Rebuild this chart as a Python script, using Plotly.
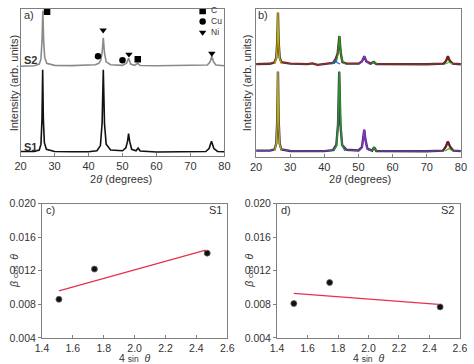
import plotly.graph_objects as go

# ---------------- Panel a: XRD patterns ----------------
a_s1_x = [20, 24, 25.5, 26.0, 26.3, 26.5, 26.7, 27.0, 27.6, 30, 35, 40, 42.5, 43.5, 44.0, 44.35, 44.7, 45.2, 46.5,
          50, 51.0, 51.5, 51.8, 52.1, 52.7, 54.0, 54.6, 55.2, 60, 70, 74.5, 75.5, 76.2, 76.9, 78, 80]
a_s1_y = [3.0, 3.0, 4.0, 8, 25, 58.6, 25, 9, 4.5, 3.0, 2.8, 2.8, 3.5, 7, 22, 58.6, 22, 8, 4,
          3.5, 5.5, 10, 15.1, 10, 4.5, 3.5, 5.3, 3.3, 2.6, 2.6, 3.0, 5, 9.9, 5, 3.0, 2.8]
a_s2_x = [20, 24, 25.5, 26.0, 26.3, 26.55, 26.8, 27.1, 27.7, 30, 35, 40, 42.0, 43.0, 43.6, 44.0, 44.35, 44.7, 45.2,
          46.5, 50, 51.2, 51.8, 52.4, 53.5, 54.5, 55.2, 60, 70, 75.0, 75.8, 76.3, 76.8, 77.5, 80]
a_s2_y = [61.0, 61.3, 62.5, 66, 78, 98.7, 78, 67, 63, 61.6, 61.4, 61.5, 62.0, 63.0, 65, 70, 80.3, 70, 64,
          62, 61.6, 63, 66.4, 62.5, 61.6, 63.0, 61.5, 61.3, 61.3, 61.8, 64, 67.8, 64, 61.8, 61.3]

phase_c_x = [27.8, 54.5]
phase_c_y = [98.0, 65.8]
phase_cu_x = [42.8, 50.0]
phase_cu_y = [67.8, 65.1]
phase_ni_x = [44.3, 51.9, 76.3]
phase_ni_y = [85.5, 69.1, 69.7]
legend_names = ["C", "Cu", "Ni"]
legend_x = 73.6
legend_y = [98.5, 91.5, 84.0]

# ---------------- Panel b: fitted XRD patterns ----------------
b_low_x = [20, 24, 25.4, 25.9, 26.2, 26.4, 26.6, 26.9, 27.4, 30, 35, 40, 42.5, 43.5, 44.0, 44.35, 44.7, 45.2, 46.5,
           50, 51.0, 51.4, 51.7, 52.0, 52.6, 54.0, 54.6, 55.2, 60, 70, 74.8, 75.6, 76.2, 76.8, 77.8, 80]
b_low_y = [4.2, 4.2, 5, 9, 25, 57.5, 25, 9, 5, 4.0, 3.9, 3.9, 4.5, 8, 22, 57.5, 22, 8, 4.8,
           4.3, 6.5, 12, 18.3, 12, 5.5, 4.2, 6.5, 4.0, 3.9, 3.8, 4.2, 7, 10.5, 7, 4.2, 3.9]
b_up_x = [20, 24, 25.4, 25.9, 26.2, 26.4, 26.6, 26.9, 27.4, 30, 35, 36.5, 38, 40, 42.5, 43.3, 43.9, 44.4, 44.8, 45.3,
          46.5, 50, 51.0, 51.7, 52.3, 53.5, 54.5, 55.2, 60, 70, 75.0, 75.7, 76.2, 76.7, 77.6, 80]
b_up_y = [62.7, 62.9, 63.8, 67, 78, 97.4, 78, 67, 64, 63.0, 62.7, 63.2, 62.2, 62.8, 63.5, 66, 70, 81.7, 70, 64,
          63, 63, 64.5, 68.0, 64.5, 63, 64.1, 62.8, 62.6, 62.6, 63, 65, 68.0, 65, 63, 62.6]

# component peaks
comp_c1_x = [25.4, 25.9, 26.2, 26.4, 26.6, 26.9, 27.4]
comp_c1_low = [4.0, 8.5, 24, 57.5, 24, 8.5, 4.0]
comp_c1_up = [62.8, 66.5, 77, 97.4, 77, 66.5, 62.8]
comp_ni1_x = [42.8, 43.6, 44.0, 44.4, 44.8, 45.2, 46.0]
comp_ni1_low = [4.0, 7.5, 21, 57.5, 21, 7.5, 4.0]
comp_ni1_up = [62.8, 65, 69.5, 81.7, 69.5, 65, 62.8]
comp_cu1_x = [42.0, 42.8, 43.3, 43.8, 44.6]
comp_cu1_up = [62.8, 63.6, 64.8, 63.6, 62.8]
comp_ni2_x = [50.2, 51.0, 51.4, 51.7, 52.0, 52.4, 53.2]
comp_ni2_low = [4.0, 6.3, 11.5, 18.3, 11.5, 6.0, 4.0]
comp_ni2_up = [62.8, 64.3, 66.5, 68.0, 66.5, 64.3, 62.8]
comp_c2_x = [53.8, 54.3, 54.6, 54.9, 55.4]
comp_c2_low = [4.0, 5.0, 6.5, 5.0, 4.0]
comp_c2_up = [62.8, 63.4, 64.1, 63.4, 62.8]
comp_ni3_x = [74.6, 75.5, 75.9, 76.2, 76.5, 76.9, 77.8]
comp_ni3_low = [4.0, 6.2, 8.5, 10.5, 8.5, 6.2, 4.0]
comp_ni3_up = [62.8, 64.5, 66.5, 68.0, 66.5, 64.5, 62.8]
comp_ni3b_x = [75.4, 76.0, 76.5, 77.0, 77.6]
comp_ni3b_low = [4.0, 4.8, 5.6, 4.8, 4.0]
comp_ni3b_up = [62.8, 63.4, 63.9, 63.4, 62.8]

# ---------------- Panels c, d: Williamson-Hall ----------------
wh_c_x = [1.51, 1.74, 2.47]
wh_c_y = [0.0086, 0.0122, 0.0141]
fit_c_x = [1.51, 2.46]
fit_c_y = [0.0096, 0.01445]
wh_d_x = [1.51, 1.745, 2.47]
wh_d_y = [0.0081, 0.0106, 0.0077]
fit_d_x = [1.51, 2.46]
fit_d_y = [0.0093, 0.0080]

FONT = "Liberation Sans, Arial, sans-serif"
W, H = 474, 364
fig = go.Figure()

# panel a traces
fig.add_trace(go.Scatter(x=a_s1_x, y=a_s1_y, mode="lines", line=dict(color="#111111", width=1.6),
                         xaxis="x", yaxis="y", showlegend=False))
fig.add_trace(go.Scatter(x=a_s2_x, y=a_s2_y, mode="lines", line=dict(color="#8a8a8a", width=1.6),
                         xaxis="x", yaxis="y", showlegend=False))
for xs, ys, sym in [(phase_c_x, phase_c_y, "square"), (phase_cu_x, phase_cu_y, "circle"),
                    (phase_ni_x, phase_ni_y, "triangle-down")]:
    fig.add_trace(go.Scatter(x=xs, y=ys, mode="markers", marker=dict(symbol=sym, size=6.5, color="black"),
                             xaxis="x", yaxis="y", showlegend=False))
fig.add_trace(go.Scatter(x=[legend_x] * 3, y=legend_y, mode="markers",
                         marker=dict(symbol=["square", "circle", "triangle-down"], size=6.5, color="black"),
                         xaxis="x", yaxis="y", showlegend=False))

# panel b traces
for xs, ys, fitc in [(b_low_x, b_low_y, "#7a3cc8"), (b_up_x, b_up_y, "#b22222")]:
    fig.add_trace(go.Scatter(x=xs, y=ys, mode="lines", line=dict(color="#3a3a3a", width=2.4),
                             xaxis="x2", yaxis="y2", showlegend=False))
    fig.add_trace(go.Scatter(x=xs, y=ys, mode="lines", line=dict(color=fitc, width=1),
                             xaxis="x2", yaxis="y2", showlegend=False))
comps = [
    (comp_c1_x, comp_c1_low, "#b8b000"), (comp_c1_x, comp_c1_up, "#b8b000"),
    (comp_ni1_x, comp_ni1_low, "#1e9a1e"), (comp_ni1_x, comp_ni1_up, "#1e9a1e"),
    (comp_cu1_x, comp_cu1_up, "#2060d8"),
    (comp_ni2_x, comp_ni2_low, "#8a2be2"), (comp_ni2_x, comp_ni2_up, "#8a2be2"),
    (comp_c2_x, comp_c2_low, "#1e9a1e"), (comp_c2_x, comp_c2_up, "#1e9a1e"),
    (comp_ni3_x, comp_ni3_low, "#8b1010"), (comp_ni3_x, comp_ni3_up, "#8b1010"),
    (comp_ni3b_x, comp_ni3b_low, "#30c030"), (comp_ni3b_x, comp_ni3b_up, "#30c030"),
]
for xs, ys, c in comps:
    fig.add_trace(go.Scatter(x=xs, y=ys, mode="lines", line=dict(color=c, width=1.2),
                             xaxis="x2", yaxis="y2", showlegend=False))

# panels c, d
for xs, ys, fx, fy, xa, ya in [(wh_c_x, wh_c_y, fit_c_x, fit_c_y, "x3", "y3"),
                               (wh_d_x, wh_d_y, fit_d_x, fit_d_y, "x4", "y4")]:
    fig.add_trace(go.Scatter(x=fx, y=fy, mode="lines", line=dict(color="#e8304a", width=1.3),
                             xaxis=xa, yaxis=ya, showlegend=False))
    fig.add_trace(go.Scatter(x=xs, y=ys, mode="markers",
                             marker=dict(size=6, color="#111111", line=dict(color="#666666", width=0.8)),
                             xaxis=xa, yaxis=ya, showlegend=False))

def dom_x(a, b):
    return [a / W, b / W]

def dom_y(top, bottom):
    return [1 - bottom / H, 1 - top / H]

axcol = "#808080"
tickfont = dict(family=FONT, size=11, color="#333333")
xrd_x = dict(range=[20, 80], tickvals=[20, 30, 40, 50, 60, 70, 80], showline=True, mirror=True,
             linecolor=axcol, linewidth=1, ticks="inside", ticklen=3, tickcolor=axcol,
             showgrid=False, zeroline=False, tickfont=tickfont)
xrd_y = dict(range=[0, 100], showline=True, mirror=True, linecolor=axcol, linewidth=1,
             showticklabels=False, ticks="", showgrid=False, zeroline=False)
wh_font = dict(family=FONT, size=10.5, color="#333333")
wh_title = dict(text="4 <span style='font-size:8.5px'>sin</span>  <i>θ</i>", standoff=0,
                font=dict(family=FONT, size=10.5, color="#333333"))
wh_x = dict(range=[1.4, 2.6], tickvals=[1.4, 1.6, 1.8, 2.0, 2.2, 2.4, 2.6],
            ticktext=["1.4", "1.6", "1.8", "2.0", "2.2", "2.4", "2.6"],
            showline=True, mirror=True, linecolor=axcol, linewidth=1, ticks="inside", ticklen=3,
            tickcolor=axcol, showgrid=False, zeroline=False, tickfont=wh_font, title=wh_title)
wh_y = dict(range=[0.004, 0.020], tickvals=[0.004, 0.008, 0.012, 0.016, 0.020],
            ticktext=["0.004", "0.008", "0.012", "0.016", "0.020"],
            showline=True, mirror=True, linecolor=axcol, linewidth=1, ticks="outside", ticklen=3,
            tickcolor=axcol, showgrid=False, zeroline=False, tickfont=wh_font)

fig.update_layout(
    width=W, height=H, margin=dict(l=0, r=0, t=0, b=0),
    paper_bgcolor="white", plot_bgcolor="white", showlegend=False,
    font=dict(family=FONT, color="#333333"),
    xaxis=dict(xrd_x, domain=dom_x(14, 224), anchor="y"),
    yaxis=dict(xrd_y, domain=dom_y(3, 155), anchor="x"),
    xaxis2=dict(xrd_x, domain=dom_x(256.7, 467.7), anchor="y2"),
    yaxis2=dict(xrd_y, domain=dom_y(3, 156), anchor="x2"),
    xaxis3=dict(wh_x, domain=dom_x(36, 227), anchor="y3"),
    yaxis3=dict(wh_y, domain=dom_y(204.3, 343.3), anchor="x3"),
    xaxis4=dict(wh_x, domain=dom_x(278.3, 466.7), anchor="y4"),
    yaxis4=dict(wh_y, domain=dom_y(204.3, 343.3), anchor="x4"),
)

ann = []
def pa(text, x, y, size=11, angle=0, xanchor="center", yanchor="middle", bold=False, align="center"):
    t = f"<b>{text}</b>" if bold else text
    ann.append(dict(text=t, x=x / W, y=1 - y / H, xref="paper", yref="paper", showarrow=False,
                    textangle=angle, xanchor=xanchor, yanchor=yanchor, borderpad=0, align=align,
                    font=dict(family=FONT, size=size, color="#333333")))

theta = "<i>θ</i>"
pa("a)", 16, 9, xanchor="left")
pa("S2", 17, 56, bold=True, xanchor="left")
pa("S1", 17, 146, bold=True, xanchor="left")
pa("<br>".join(legend_names), 209, 16, xanchor="left", size=8.5, align="left")
pa("Intensity (arb. units)", 0, 80, angle=-90, xanchor="left")
pa(f"2{theta} (degrees)", 117, 179)

pa("b)", 258, 9, xanchor="left")
pa("Intensity (arb. units)", 241, 79, angle=-90, xanchor="left")
pa(f"2{theta} (degrees)", 364, 179)

beta = "<i>β</i> <span style='font-size:8px'>cos</span>  " + theta
pa(beta, 0, 274, angle=-90, xanchor="left", size=10.5)
pa("c)", 39, 211, xanchor="left")
pa("S1", 223, 211, xanchor="right")

pa(beta, 242, 274, angle=-90, xanchor="left", size=10.5)
pa("d)", 281, 211, xanchor="left")
pa("S2", 462, 211, xanchor="right")

fig.update_layout(annotations=ann)
fig.write_html("out.html", post_script="document.body.style.margin='0';",
               config={"displayModeBar": False})
